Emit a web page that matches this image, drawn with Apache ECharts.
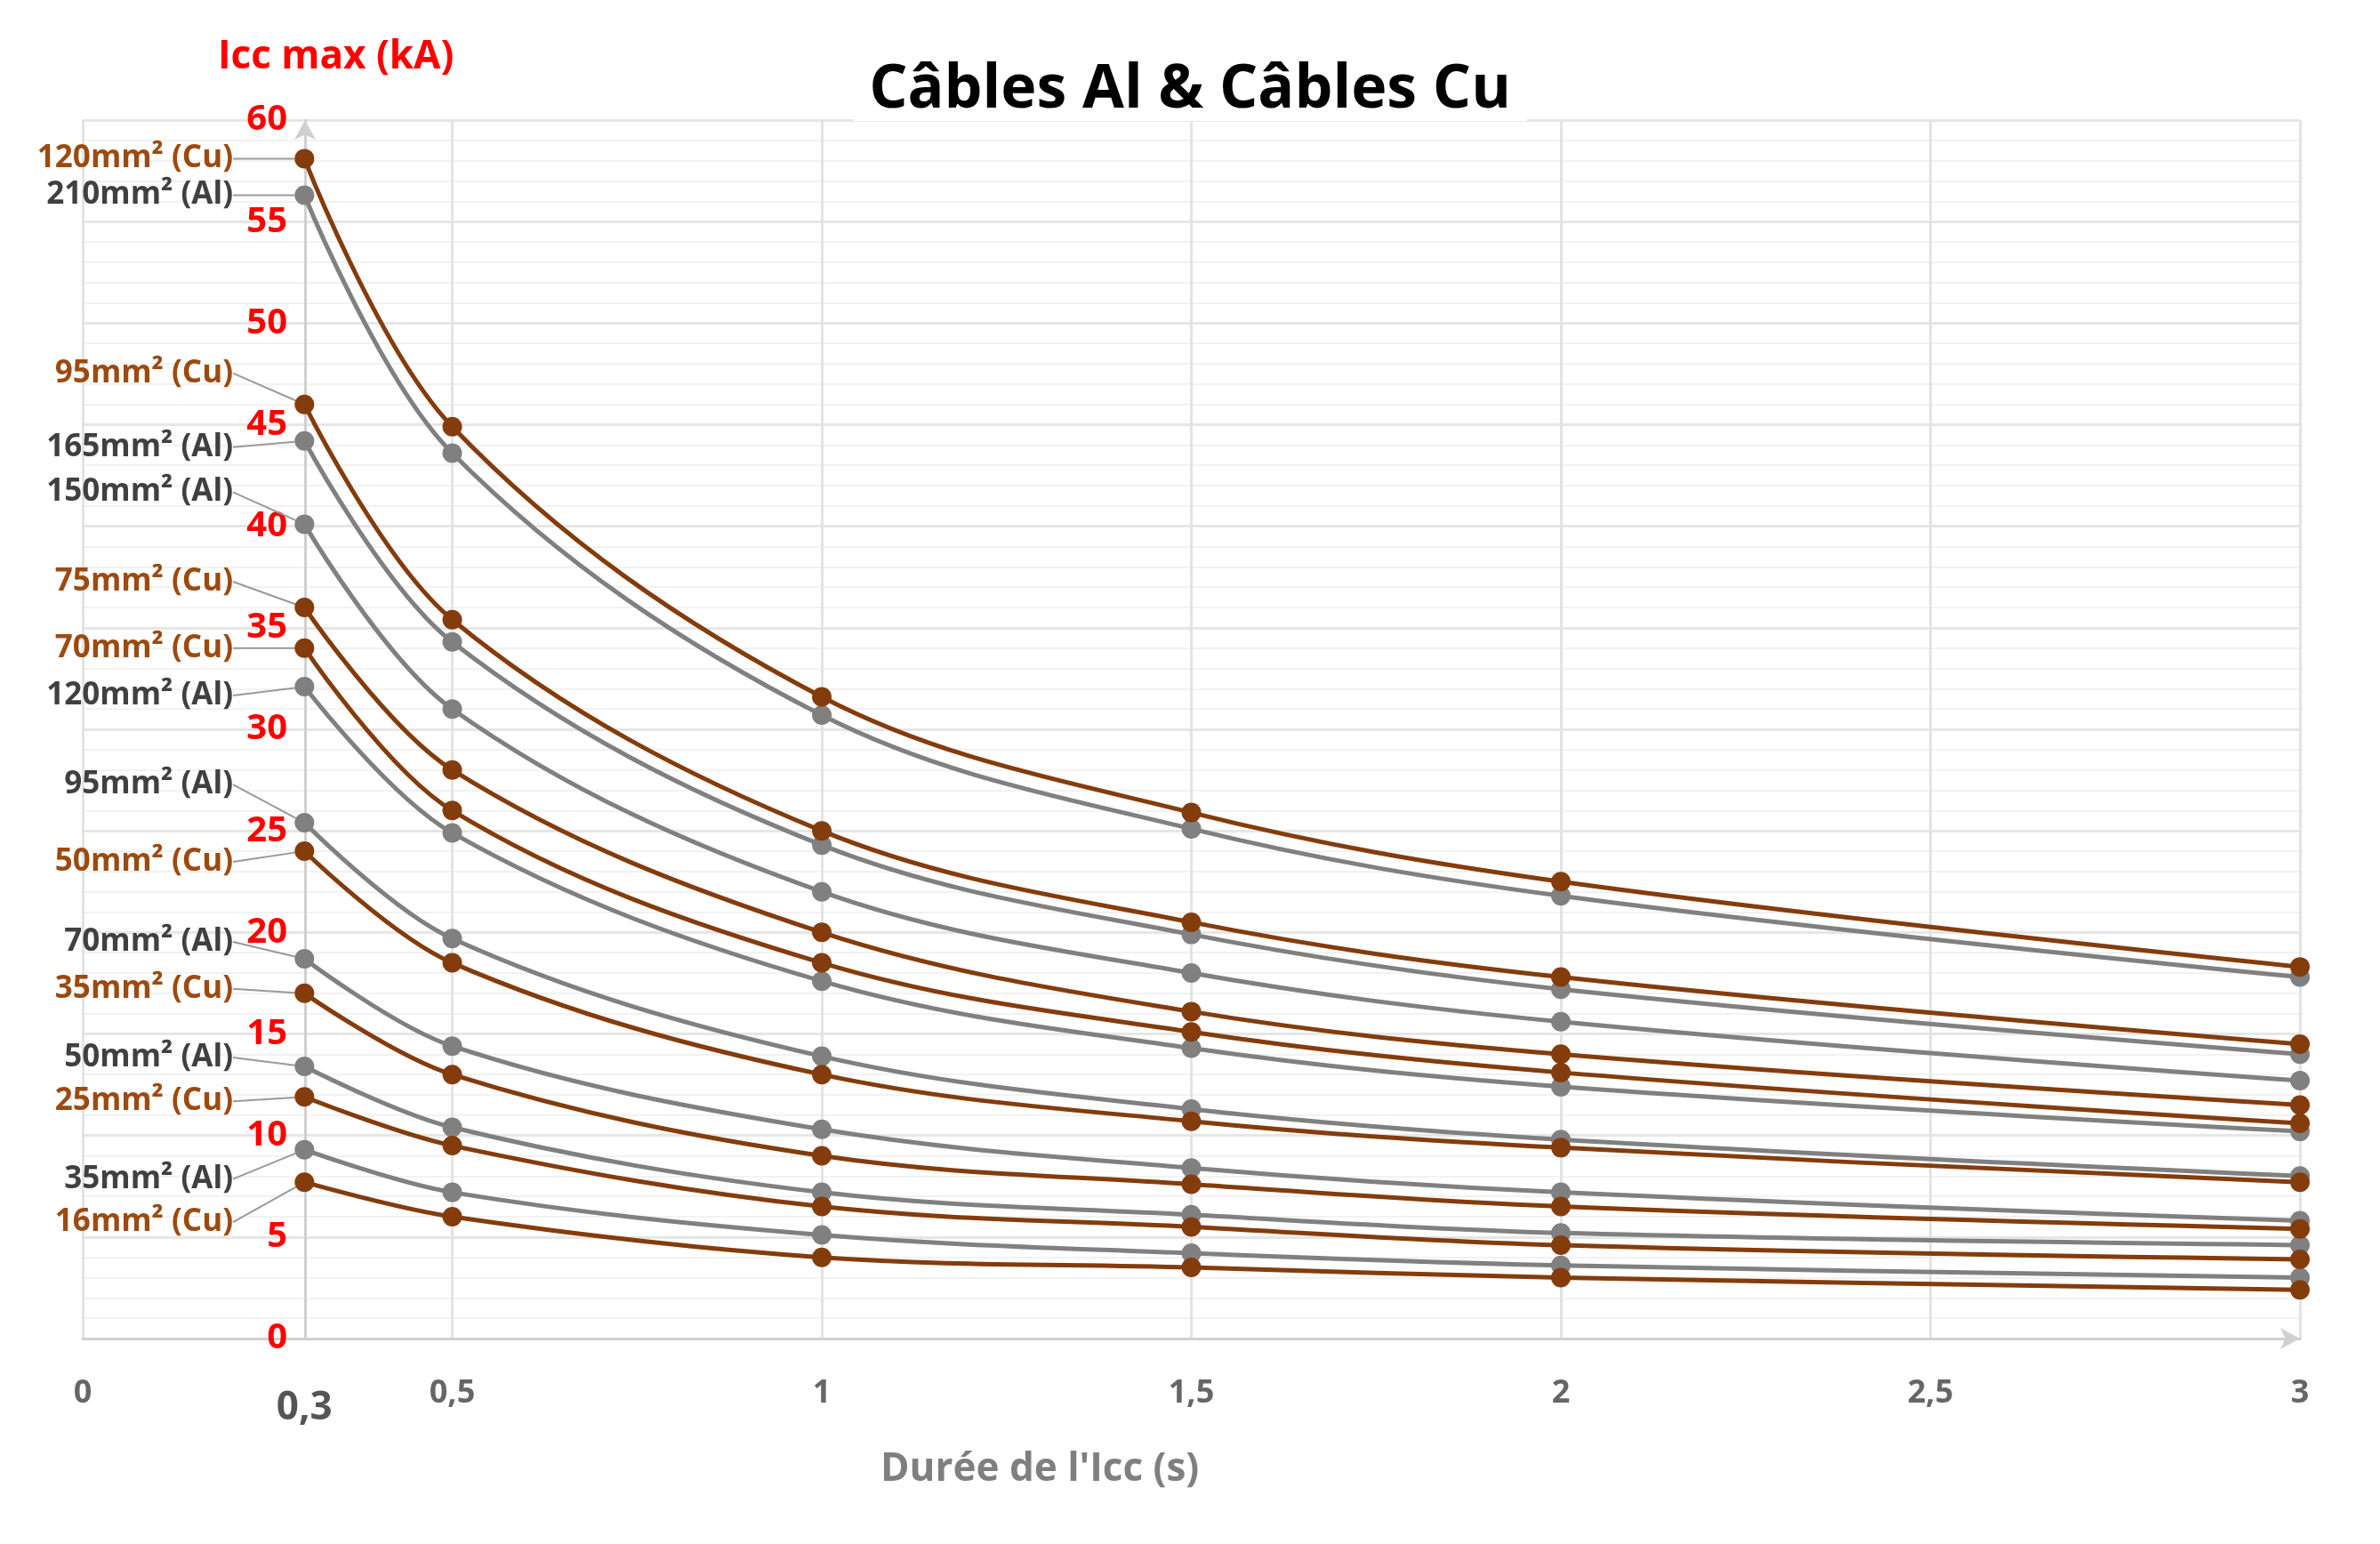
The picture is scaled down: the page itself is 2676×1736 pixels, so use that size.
<!DOCTYPE html>
<html><head><meta charset="utf-8">
<script src="https://cdn.jsdelivr.net/npm/echarts@6/dist/echarts.min.js"></script>
<style>html,body{margin:0;background:#fff}#c{width:2676px;height:1736px}</style>
</head><body><div id="c"></div>
<script>
var durations = [0.3, 0.5, 1, 1.5, 2, 3];
var names = ['120mm² (Cu)','210mm² (Al)','95mm² (Cu)','165mm² (Al)','150mm² (Al)','75mm² (Cu)','70mm² (Cu)','120mm² (Al)',
             '95mm² (Al)','50mm² (Cu)','70mm² (Al)','35mm² (Cu)','50mm² (Al)','25mm² (Cu)','35mm² (Al)','16mm² (Cu)'];
var values = [
  [58.1, 44.9, 31.6, 25.9, 22.5, 18.3],
  [56.3, 43.6, 30.7, 25.1, 21.8, 17.8],
  [46.0, 35.4, 25.0, 20.5, 17.8, 14.5],
  [44.2, 34.3, 24.3, 19.9, 17.2, 14.0],
  [40.1, 31.0, 22.0, 18.0, 15.6, 12.7],
  [36.0, 28.0, 20.0, 16.1, 14.0, 11.5],
  [34.0, 26.0, 18.5, 15.1, 13.1, 10.6],
  [32.1, 24.9, 17.6, 14.3, 12.4, 10.2],
  [25.4, 19.7, 13.9, 11.3, 9.8, 8.0],
  [24.0, 18.5, 13.0, 10.7, 9.4, 7.7],
  [18.7, 14.4, 10.3, 8.4, 7.2, 5.8],
  [17.0, 13.0, 9.0, 7.6, 6.5, 5.4],
  [13.4, 10.4, 7.2, 6.1, 5.2, 4.6],
  [11.9, 9.5, 6.5, 5.5, 4.6, 3.9],
  [9.3, 7.2, 5.1, 4.2, 3.6, 3.0],
  [7.7, 6.0, 4.0, 3.5, 3.0, 2.4]
];
var labelDy = [0, 0, -35, 7, -36, -29, 0, 10, -43, 12, -19, -5, -10, 5, 33, 45];
var xTicks = [0, 0.3, 0.5, 1, 1.5, 2, 2.5, 3];
var CU = '#843c0c', AL = '#808080';

var series = names.map(function (n, i) {
  var col = n.indexOf('Cu') >= 0 ? CU : AL;
  return {
    name: n, type: 'line', smooth: 0.35, symbol: 'circle', symbolSize: 22,
    itemStyle: {color: col}, lineStyle: {color: col, width: 5},
    data: values[i].map(function (v, j) {
      var d = {value: [durations[j], v]};
      if (j === 0) d.label = {show: true, formatter: n, color: col === CU ? '#9c4a10' : '#404040',
        fontSize: 35, fontWeight: 'bold', fontFamily: 'Open Sans'};
      return d;
    }),
    labelLine: {show: true, lineStyle: {color: '#999', width: 2}},
    labelLayout: function (p) {
      return {x: 262, y: p.rect.y + p.rect.height / 2 + labelDy[i], align: 'right', verticalAlign: 'middle'};
    },
    z: col === CU ? 3 : 2
  };
});

var chart = echarts.init(document.getElementById('c'));
chart.setOption({
  backgroundColor: '#fff',
  animation: false,
  grid: {left: 93, right: 90, top: 135, bottom: 231},
  title: {text: 'Câbles Al & Câbles Cu', left: 'center', top: 68,
    textStyle: {fontSize: 68, fontWeight: 'bold', color: '#000', fontFamily: 'Open Sans'},
    backgroundColor: '#fff', padding: [0, 18]},
  graphic: [
    {type: 'text', left: 245, top: 42, style: {text: 'Icc max (kA)', fill: '#ff0000', font: 'bold 44px "Open Sans"'}},
    {type: 'text', left: 990, top: 1630, style: {text: "Durée de l'Icc (s)", fill: '#7f7f7f', font: 'bold 44px "Open Sans"'}}
  ],
  xAxis: {
    type: 'value', min: 0, max: 3, interval: 0.5,
    axisLine: {lineStyle: {color: '#d0d0d0', width: 3}, symbol: ['none', 'arrow'], symbolSize: [18, 22]},
    axisTick: {show: false},
    axisLabel: {customValues: xTicks, margin: 44, fontSize: 36, fontWeight: 'bold', color: '#666', fontFamily: 'Open Sans',
      formatter: function (v) { var s = String(v).replace('.', ','); return v === 0.3 ? '{b|' + s + '}' : s; },
      rich: {b: {fontSize: 44, fontWeight: 'bold', color: '#555', fontFamily: 'Open Sans', padding: [12, 0, 0, 0]}}},
    splitLine: {show: true, lineStyle: {color: '#e3e3e3', width: 3}}
  },
  yAxis: {
    type: 'value', min: 0, max: 60, interval: 5, offset: -250,
    axisLine: {show: true, lineStyle: {color: '#d0d0d0', width: 3}, symbol: ['none', 'arrow'], symbolSize: [18, 22]},
    axisTick: {show: false},
    axisLabel: {color: '#ff0000', fontSize: 40, fontWeight: 'bold', fontFamily: 'Open Sans', margin: 20, verticalAlign: 'middle'},
    splitLine: {show: true, lineStyle: {color: '#e6e6e6', width: 3}},
    minorTick: {show: false, splitNumber: 5},
    minorSplitLine: {show: true, lineStyle: {color: '#f2f2f2', width: 2}}
  },
  series: series
});
</script></body></html>
